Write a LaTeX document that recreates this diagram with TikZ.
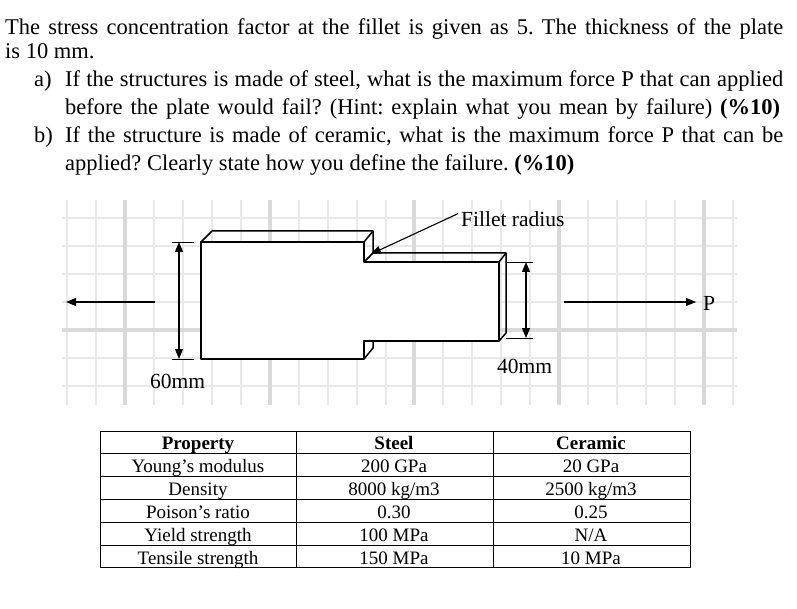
\documentclass[tikz,border=0pt]{standalone}
\usepackage{fontspec}
\setmainfont{Liberation Serif}
\usetikzlibrary{arrows.meta}
\frenchspacing
\newcommand{\jline}[2]{{\spaceskip=0.25em plus 1em minus 0.2em\makebox[#1pt][s]{#2}}}
\begin{document}
\begin{tikzpicture}[x=1pt,y=-1pt,
  txt/.style={anchor=base west,inner sep=0pt,font=\fontsize{22.5}{26}\selectfont},
  lbl/.style={anchor=base west,inner sep=0pt,font=\fontsize{21.5}{24}\selectfont},
  cell/.style={anchor=base,inner sep=0pt,font=\fontsize{19}{22}\selectfont},
  part/.style={line width=1.5pt,line join=round},
  arr/.style={line width=1.1pt,-{Triangle[length=10pt,width=8pt]}},
  dim/.style={line width=1.1pt,{Triangle[length=10pt,width=8pt]}-{Triangle[length=10pt,width=8pt]}},
  minorg/.style={gray!18,line width=1.5pt},
  majorg/.style={gray!30,line width=3.5pt}]
\fill[white] (0,0) rectangle (797,609);
\useasboundingbox (0,0) rectangle (797,609);
% text
\node[txt] (t1) at (5,35) {\jline{778}{The stress concentration factor at the fillet is given as 5. The thickness of the plate}};
\node[txt] (t2) at (5,59) {is 10 mm.};
\node[txt] (a0) at (34,87) {a)};
\node[txt] (a1) at (65,87) {\jline{718}{If the structures is made of steel, what is the maximum force P that can applied}};
\node[txt] (a2) at (65,115) {\jline{715}{before the plate would fail? (Hint: explain what you mean by failure) \textbf{(\%10)}}};
\node[txt] (b0) at (34,143) {b)};
\node[txt] (b1) at (65,143) {\jline{718}{If the structure is made of ceramic, what is the maximum force P that can be}};
\node[txt] (b2) at (65,171) {applied? Clearly state how you define the failure. \textbf{(\%10)}};
% grid
\foreach \x in {67,96,154,183,212,241,299,328,357,386,443,472,501,530,588,617,646,675,733}
  \draw[minorg] (\x,200) -- (\x,405);
\foreach \y in {218,246,274,302,358,386}
  \draw[minorg] (62,\y) -- (737,\y);
\foreach \x in {125,270,414,559,704}
  \draw[majorg] (\x,200) -- (\x,405);
\draw[majorg] (62,330) -- (737,330);
% part
\coordinate (A) at (201,242); \coordinate (B) at (364,242);
\coordinate (C) at (364,262); \coordinate (D) at (499,262);
\coordinate (E) at (499,341); \coordinate (F) at (364,341);
\coordinate (G) at (364,359); \coordinate (H) at (201,359);
\fill[white] (A)--(B)--(C)--(D)--(E)--(F)--(G)--(H)--cycle;
\draw[part] (A)--(B)--(C)--(D)--(E)--(F)--(G)--(H)--cycle;
\draw[part] (A)--(212,231)--(373,231)--(373,253)--(506,253)--(506,333)--(E);
\draw[part] (B)--(373,231);
\draw[part] (373,253)--(C);
\draw[part] (D)--(506,253);
\draw[part] (F)--(373,341)--(373,348)--(G);
% dimensions
\draw[line width=0.9pt] (172,242)--(194,242) (172,359)--(194,359);
\draw[line width=0.9pt] (506,262)--(533,262) (506,338)--(533,338);
\coordinate (d1t) at (179,242); \coordinate (d1b) at (179,359);
\coordinate (d2t) at (526,262); \coordinate (d2b) at (526,338);
\draw[dim] (d1t)--(d1b);
\draw[dim] (d2t)--(d2b);
\node[lbl] (l60) at (150,388) {60mm};
\node[lbl] (l40) at (497,373) {40mm};
% loads
\coordinate (L1) at (155,302); \coordinate (L2) at (66,302);
\coordinate (R1) at (564,302); \coordinate (R2) at (696,302);
\draw[arr] (L1)--(L2);
\draw[arr] (R1)--(R2);
\node[lbl,anchor=west] (P) at (703,303) {P};
% fillet label
\node[lbl] (fr) at (461,227) {Fillet radius};
\coordinate (fp) at (371,254);
\draw[arr] (fr.west)++(-3,-6) -- (fp);
% table
\draw[line width=1pt] (100,431) rectangle (690,567);
\foreach \y in {453,476,499,522,545} \draw[line width=0.9pt] (100,\y)--(690,\y);
\foreach \x in {296,493} \draw[line width=0.9pt] (\x,431)--(\x,567);
\node[cell] (h1) at (198,449) {\textbf{Property}};
\node[cell] (h2) at (394,449) {\textbf{Steel}};
\node[cell] (h3) at (591,449) {\textbf{Ceramic}};
\node[cell] (r1a) at (198,472) {Young’s modulus};
\node[cell] (r1b) at (394,472) {200 GPa};
\node[cell] (r1c) at (591,472) {20 GPa};
\node[cell] (r2a) at (198,495) {Density};
\node[cell] (r2b) at (394,495) {8000 kg/m3};
\node[cell] (r2c) at (591,495) {2500 kg/m3};
\node[cell] (r3a) at (198,518) {Poison’s ratio};
\node[cell] (r3b) at (394,518) {0.30};
\node[cell] (r3c) at (591,518) {0.25};
\node[cell] (r4a) at (198,541) {Yield strength};
\node[cell] (r4b) at (394,541) {100 MPa};
\node[cell] (r4c) at (591,541) {N/A};
\node[cell] (r5a) at (198,564) {Tensile strength};
\node[cell] (r5b) at (394,564) {150 MPa};
\node[cell] (r5c) at (591,564) {10 MPa};
\end{tikzpicture}
\end{document}
